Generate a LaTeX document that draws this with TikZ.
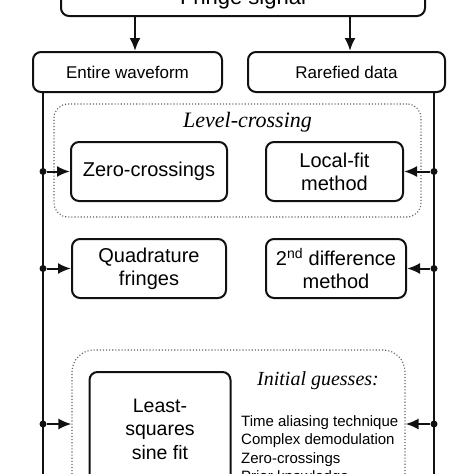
\documentclass[tikz,border=0pt]{standalone}
\usepackage{fontspec}
\setmainfont{Liberation Sans}
\newfontfamily\capfont{Liberation Serif}
\usetikzlibrary{arrows.meta,calc}
\definecolor{FlowInk}{HTML}{111111}
\definecolor{GroupDots}{HTML}{606060}

\tikzset{
  stepbox/.style={draw=FlowInk,line width=2pt,rounded corners=8pt,
    align=center,inner sep=0pt},
  groupbox/.style={draw=GroupDots,line width=1.1pt,dotted,rounded corners=14pt,
    inner sep=0pt},
  grouptitle/.style={inner sep=0pt,font=\capfont\itshape\fontsize{22}{26}\selectfont},
  flow/.style={-{Latex[length=13pt,width=11pt]},line width=2pt,FlowInk},
  bus/.style={line width=2.2pt,FlowInk},
  tap/.style={circle,fill=FlowInk,inner sep=0pt,minimum size=7pt},
}

\begin{document}
\begin{tikzpicture}[x=1pt,y=-1pt]
  \useasboundingbox (0,0) rectangle (474,474);
  \clip (0,0) rectangle (474,474);

  % source and the two data paths
  \node[stepbox,minimum width=364pt,minimum height=34pt,
    font=\fontsize{22}{26}\selectfont] (fringe) at (243,-1) {Fringe signal};
  \node[stepbox,minimum width=189pt,minimum height=40pt,
    font=\fontsize{17}{20}\selectfont] (entire) at (127.5,72) {Entire waveform};
  \node[stepbox,minimum width=197pt,minimum height=40pt,
    font=\fontsize{17}{20}\selectfont] (rarefied) at (346.5,72) {Rarefied data};
  \coordinate (ewIn) at (135,0);
  \coordinate (rdIn) at (350,0);
  \draw[flow] (fringe.south -| ewIn) -- (entire.north -| ewIn);
  \draw[flow] (fringe.south -| rdIn) -- (rarefied.north -| rdIn);

  % level-crossing group
  \node[groupbox,minimum width=367pt,minimum height=113pt] (lc) at (237.5,160.5) {};
  \node[grouptitle] (lctitle) at (247.5,122) {Level-crossing};
  \node[stepbox,minimum width=156pt,minimum height=59pt,
    font=\fontsize{20}{23}\selectfont] (zero) at (149,171.5) {Zero-crossings};
  \node[stepbox,minimum width=137pt,minimum height=59pt,
    font=\fontsize{20}{23}\selectfont] (localfit) at (334.5,171.5) {Local-fit\\method};

  % phase methods
  \node[stepbox,minimum width=154pt,minimum height=59pt,
    font=\fontsize{20}{23}\selectfont] (quad) at (149,268.5) {Quadrature\\fringes};
  \node[stepbox,minimum width=140pt,minimum height=59pt,
    font=\fontsize{20}{23}\selectfont] (second) at (336,268.5)
    {2\textsuperscript{nd} difference\\method};

  % sine fit group
  \node[groupbox,rounded corners=22pt,minimum width=333pt,minimum height=148pt]
    (guess) at (238.5,424) {};
  \node[stepbox,anchor=north,minimum width=141pt,inner ysep=27pt,
    font=\fontsize{19.5}{23.5}\selectfont] (lsq) at (160,371)
    {Least-\\squares\\sine fit};
  \node[grouptitle,font=\capfont\itshape\fontsize{20}{24}\selectfont]
    (guesstitle) at (318,380.5) {Initial guesses:};
  \node[anchor=north west,align=left,inner sep=0pt,
    font=\fontsize{15}{18.5}\selectfont] (guesslist) at (241,415.3)
    {Time aliasing technique\\Complex demodulation\\Zero-crossings\\Prior knowledge};

  % buses
  \coordinate (lbus) at (43,490);
  \coordinate (rbus) at (434,490);
  \draw[bus] (entire.south -| lbus) -- (lbus);
  \draw[bus] (rarefied.south -| rbus) -- (rbus);
  \foreach \dest/\tapname in {zero/tz,quad/tq,guess/tg}{
    \node[tap] (\tapname) at (\dest.west -| lbus) {};
    \draw[flow] (\tapname) -- (\dest.west);
  }
  \foreach \dest/\tapname in {localfit/tl,second/ts,guess/tr}{
    \node[tap] (\tapname) at (\dest.east -| rbus) {};
    \draw[flow] (\tapname) -- (\dest.east);
  }
\end{tikzpicture}
\end{document}
